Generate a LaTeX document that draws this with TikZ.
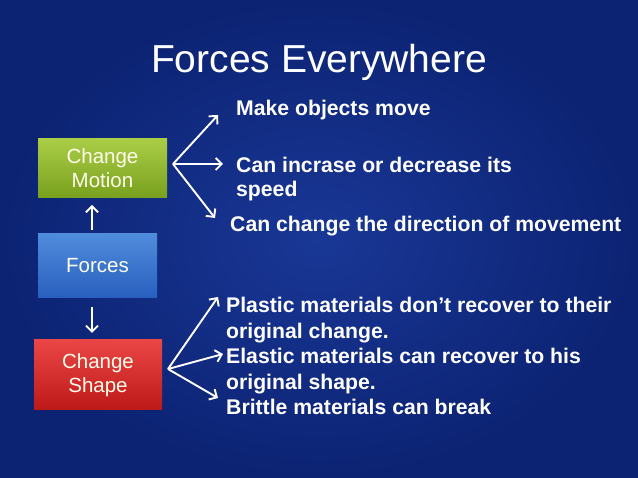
\documentclass[tikz,border=0pt]{standalone}
\usepackage{fontspec}
\setmainfont{Liberation Sans}
\usetikzlibrary{arrows.meta}
\begin{document}
\begin{tikzpicture}[x=1pt,y=-1pt,
  box/.style={draw=none,minimum width=#1,text=white!92!yellow,font=\fontsize{20.5}{24}\selectfont,align=center,inner sep=0pt},
  arr/.style={white,line width=1.9pt,-{Straight Barb[length=6pt,width=12pt,line width=1.9pt]}},
  txt/.style={anchor=west,text=white,font=\bfseries\fontsize{21.2}{24}\selectfont,align=left,inner sep=0pt}]
\shade[inner color={rgb,255:red,25;green,55;blue,150},outer color={rgb,255:red,12;green,35;blue,115}] (0,0) rectangle (638,478);
\useasboundingbox (0,0) rectangle (638,478);
\node[text=white,font=\fontsize{39}{44}\selectfont] (title) at (319,62) {Forces Everywhere};
\shade[top color={rgb,255:red,170;green,205;blue,70},bottom color={rgb,255:red,120;green,160;blue,30}] (38,139) rectangle (167,198);
\node[box=129pt] (motion) at (102.5,168.5) {Change\\Motion};
\shade[top color={rgb,255:red,80;green,140;blue,220},bottom color={rgb,255:red,40;green,95;blue,190}] (38,234) rectangle (157,298);
\node[box=119pt] (forces) at (97.5,266) {Forces};
\shade[top color={rgb,255:red,235;green,70;blue,70},bottom color={rgb,255:red,190;green,25;blue,25}] (34,340) rectangle (162,410);
\node[box=128pt] (shape) at (98,375) {Change\\Shape};
\coordinate (fm) at (173,164);
\coordinate (fs) at (168,369);
\coordinate (u1) at (92,230); \coordinate (u2) at (92,205);
\coordinate (d1) at (92,307); \coordinate (d2) at (92,333);
\draw[arr] (u1) -- (u2);
\draw[arr] (d1) -- (d2);
\coordinate (m1) at (218,115); \coordinate (m2) at (223,164); \coordinate (m3) at (215,218);
\coordinate (s1) at (218,297); \coordinate (s2) at (223,354); \coordinate (s3) at (218,398);
\foreach \t in {m1,m2,m3} \draw[arr] (fm) -- (\t);
\foreach \t in {s1,s2,s3} \draw[arr] (fs) -- (\t);
\node[txt] (t1) at (236,110) {Make objects move};
\node[txt,anchor=north west] (t2) at (236,157) {Can incrase or decrease its\\speed};
\node[txt] (t3) at (230,226) {Can change the direction of movement};
\node[txt,anchor=north west,font=\bfseries\fontsize{21.2}{25.5}\selectfont] (t4) at (226,297) {Plastic materials don’t recover to their\\original change.\\Elastic materials can recover to his\\original shape.\\Brittle materials can break};
\end{tikzpicture}
\end{document}
